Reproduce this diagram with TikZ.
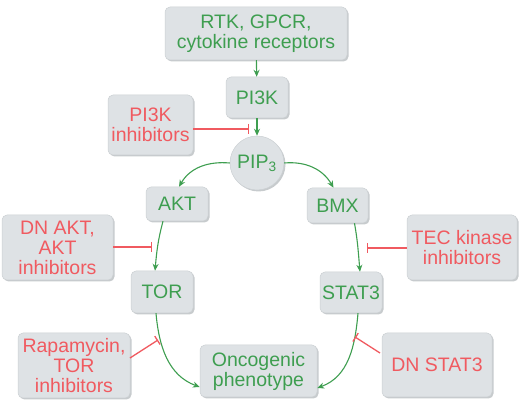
\documentclass[tikz,border=0pt]{standalone}
\usepackage{fontspec}
\setmainfont{Liberation Sans}
\usetikzlibrary{arrows.meta,shadows}
\definecolor{boxfill}{HTML}{DEE2E5}
\definecolor{boxline}{HTML}{CBD0D3}
\definecolor{grn}{HTML}{3E9E50}
\definecolor{rd}{HTML}{F05A60}
\definecolor{shad}{HTML}{B9BEC1}
\begin{document}
\begin{tikzpicture}[x=1pt,y=-1pt,
  base/.style={draw=boxline, line width=0.5pt, fill=boxfill, rounded corners=5pt, inner sep=0pt,
    align=center, font=\fontsize{19.5}{20}\selectfont,
    drop shadow={shadow xshift=1.5pt, shadow yshift=-1.5pt, fill=shad, opacity=0.8}},
  gbox/.style={base, text=grn},
  rbox/.style={base, text=rd},
  act/.style={draw=grn, line width=1.1pt, -{Stealth[length=7pt,width=6pt]}},
  inh/.style={draw=rd, line width=1.3pt, -{Bar[width=10pt,line width=1.3pt]}}]
\useasboundingbox (0,0) rectangle (520,403);
\node[gbox, minimum width=182pt, minimum height=53pt] (rtk) at (256,33.5) {RTK, GPCR,\\cytokine receptors};
\node[gbox, minimum width=62pt, minimum height=41pt] (pi3k) at (257,97.5) {PI3K};
\node[base, text=grn, circle, rounded corners=0pt, minimum size=54pt] (pip) at (257,163) {PIP\textsubscript{3}};
\node[rbox, minimum width=85pt, minimum height=60pt] (pi3kinh) at (150.5,125) {PI3K\\inhibitors};
\node[gbox, minimum width=62pt, minimum height=34pt] (akt) at (177,204) {AKT};
\node[rbox, minimum width=111pt, minimum height=65pt] (dnakt) at (57.5,247.5) {DN AKT,\\AKT\\inhibitors};
\node[gbox, minimum width=62pt, minimum height=42pt] (tor) at (162,292) {TOR};
\node[rbox, minimum width=112pt, minimum height=65pt] (rapa) at (74,365.5) {Rapamycin,\\TOR\\inhibitors};
\node[gbox, minimum width=117pt, minimum height=52pt] (onc) at (258.5,371) {Oncogenic\\phenotype};
\node[gbox, minimum width=61pt, minimum height=35pt] (bmx) at (337.5,205.5) {BMX};
\node[rbox, minimum width=110pt, minimum height=65pt] (tec) at (462,247.5) {TEC kinase\\inhibitors};
\node[gbox, minimum width=62pt, minimum height=41pt] (stat) at (351,292.5) {STAT3};
\node[rbox, minimum width=110pt, minimum height=64pt] (dnstat) at (437,365) {DN STAT3};

\coordinate (i1) at (249,129);
\coordinate (i2) at (152,247);
\coordinate (i3) at (367,248);
\coordinate (i4) at (158,340);
\coordinate (i5) at (355,337);
\coordinate (r4) at (130,358);
\coordinate (r5) at (380,353);

\draw[act] (rtk) -- (pi3k);
\draw[act] (pi3k) -- (pip);
\draw[act] (pip.west) to[out=175,in=60] ([xshift=2pt]akt.north);
\draw[act] (pip.east) to[out=5,in=120] ([xshift=-4pt]bmx.north);
\draw[act] ([xshift=-14pt]akt.south) to[out=-105,in=85] ([xshift=-7pt]tor.north);
\draw[act] ([xshift=17pt]bmx.south) to[out=-80,in=95] ([xshift=9pt]stat.north);
\draw[act] ([xshift=-6pt]tor.south) to[out=-85,in=160] ([yshift=-16pt]onc.west);
\draw[act] ([xshift=7pt]stat.south) to[out=-95,in=20] ([yshift=-17pt]onc.east);

\draw[inh] (pi3kinh.east |- i1) -- (i1);
\draw[inh] (dnakt.east |- i2) -- (i2);
\draw[inh] (tec.west |- i3) -- (i3);
\draw[inh] (r4) -- (i4);
\draw[inh] (r5) -- (i5);
\end{tikzpicture}
\end{document}
